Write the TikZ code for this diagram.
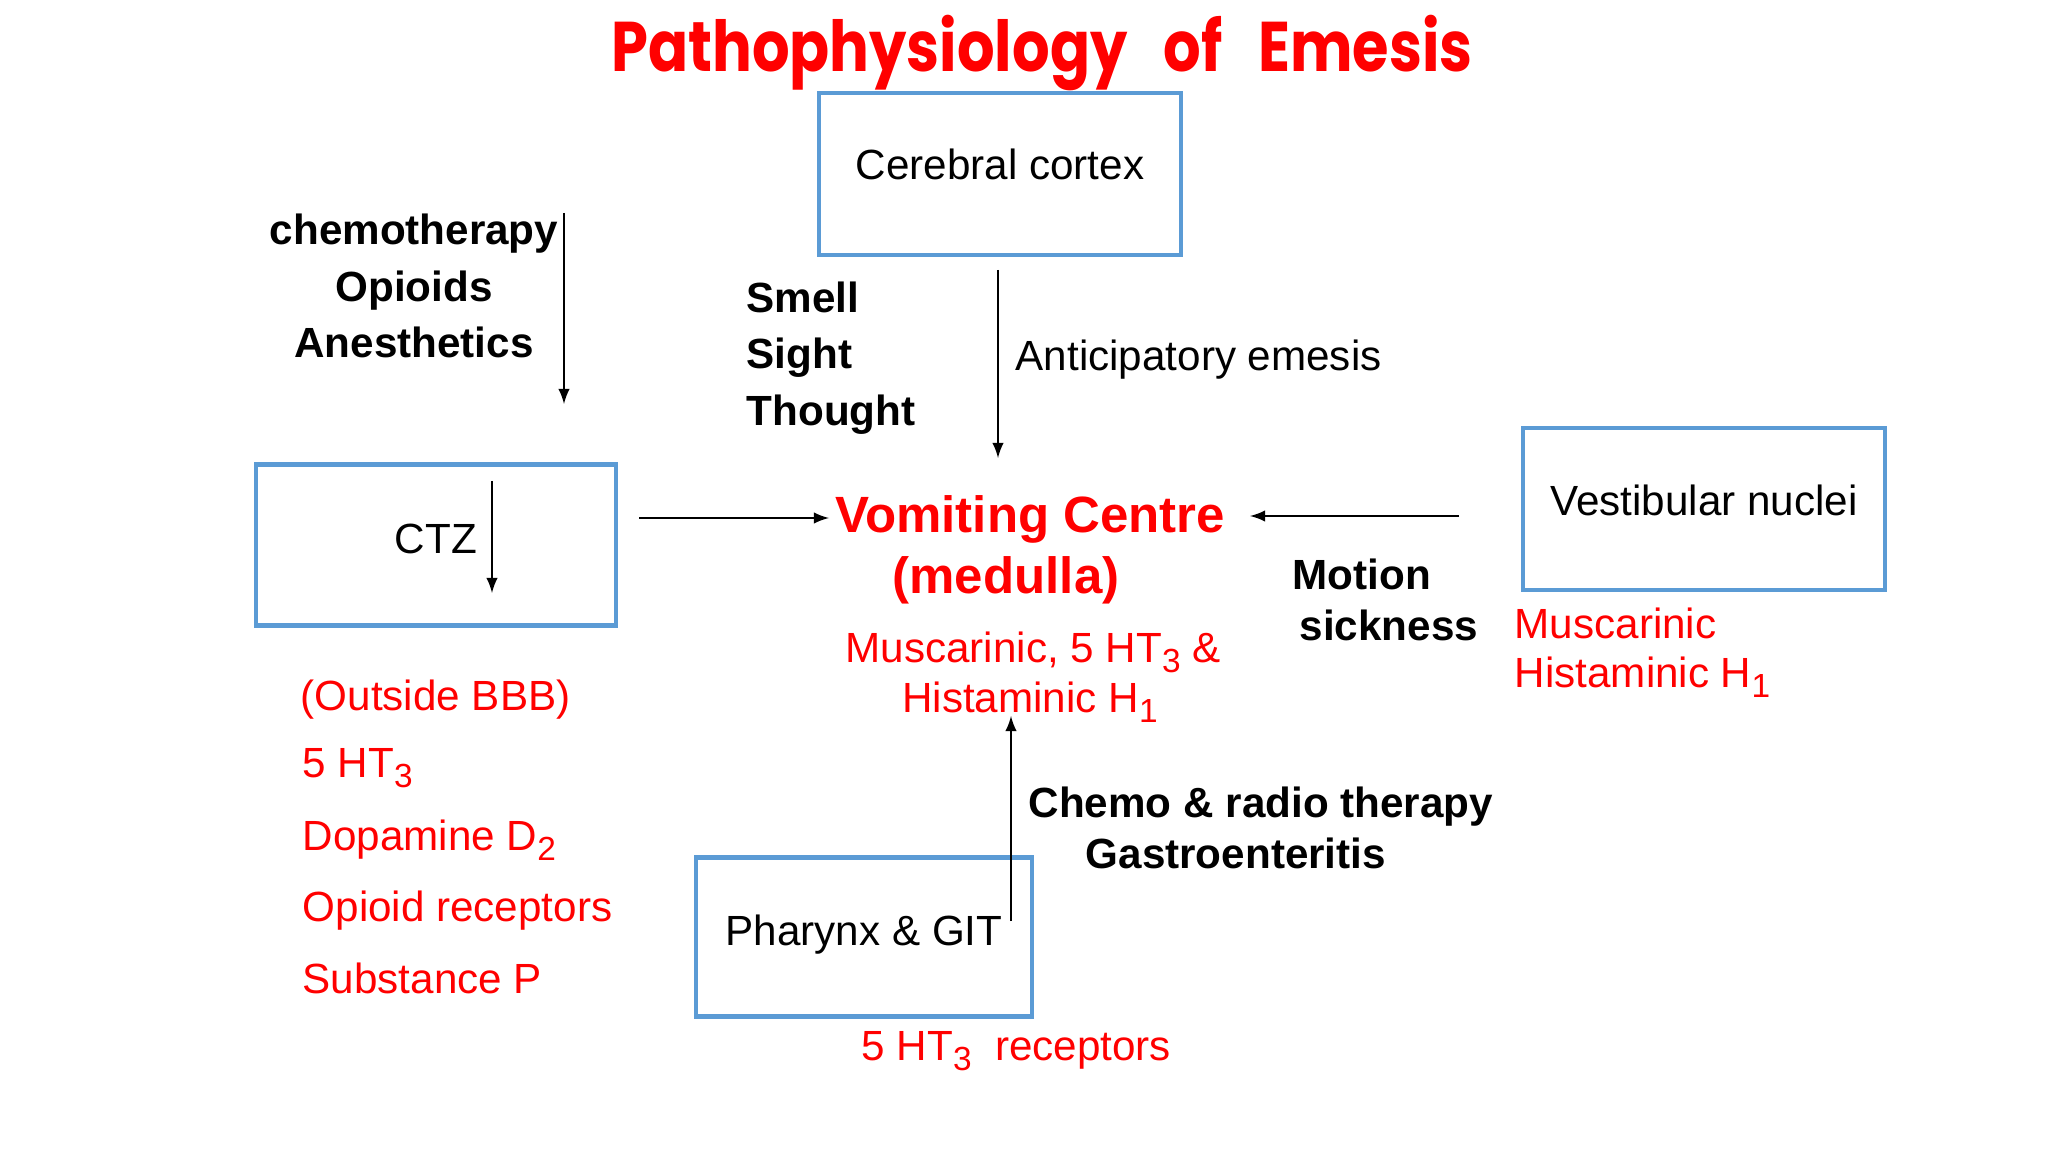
\documentclass[tikz,border=0pt]{standalone}
\usepackage{fontspec}
\setmainfont{Liberation Sans}
\newfontfamily\titlefont{Poppins}
\usepackage{xcolor}
\usetikzlibrary{arrows}
\definecolor{myred}{RGB}{255,0,0}
\definecolor{myblue}{RGB}{91,155,213}
\newcommand\lowsub[1]{\raisebox{-2.8pt}{\fontsize{9.5}{10}\selectfont #1}}

\begin{document}
\begin{tikzpicture}[x=0.01cm,y=-0.01cm,
  box/.style={draw=myblue, line width=1.3pt, minimum width=3.62cm, minimum height=1.62cm, font=\fontsize{12}{14}\selectfont},
  arr/.style={-latex, line width=0.5pt},
  lbl/.style={font=\fontsize{12}{16}\selectfont\bfseries},
  rec/.style={text=myred, font=\fontsize{12}{14}\selectfont}]
\useasboundingbox (0,0) rectangle (2048,1152);

%title
\node (title) at (1042,53) {\titlefont\bfseries\fontsize{20}{24}\selectfont\color{myred}\scalebox{0.84}[1]{Pathophysiology\hspace{0.28cm} of\hspace{0.28cm} Emesis}};

%boxes
\node[box, text depth=0.2cm] (cortex) at (1000,174) {Cerebral cortex};
\node[box, text depth=0.13cm, minimum width=3.60cm, minimum height=1.61cm] (ctz) at (436,545) {CTZ};
\node[box, text depth=0.18cm] (vest) at (1704,509) {Vestibular nuclei};
\node[box, text depth=0.14cm, minimum width=3.36cm, minimum height=1.59cm] (git) at (864,937) {Pharynx \& GIT};

%vomiting centre
\node[text=myred, font=\fontsize{14.5}{16}\selectfont\bfseries] (vc) at (1030,519) {Vomiting Centre};
\node[text=myred, font=\fontsize{14.5}{16}\selectfont\bfseries] (med) at (1006,580) {(medulla)};
\node[rec] (vcrec1) at (1033,652) {Muscarinic, 5 HT\lowsub{3} \&};
\node[rec] (vcrec2) at (1030,702) {Histaminic H\lowsub{1}};

%labels
\node[lbl, align=center] (drugs) at (414,286) {chemotherapy\\Opioids\\Anesthetics};
\node[lbl, align=left, anchor=west, inner sep=0pt] (senses) at (746,358) {Smell\\Sight\\Thought};
\node[font=\fontsize{12}{14}\selectfont, anchor=west, inner sep=0pt] (antic) at (1015,360) {Anticipatory emesis};
\node[lbl, font=\fontsize{12}{14.5}\selectfont\bfseries, align=left, anchor=west, inner sep=0pt] (motion) at (1292,600) {Motion\\\,sickness};
\node[lbl, font=\fontsize{12}{14.5}\selectfont\bfseries, align=left, anchor=west, inner sep=0pt] (chemo) at (1028,828) {Chemo \& radio therapy\\\hspace*{0.57cm}Gastroenteritis};

%receptors
\node[rec, anchor=west, inner sep=0pt] (bbb) at (300,700) {(Outside BBB)};
\node[rec, anchor=west, inner sep=0pt] (ht) at (302,768) {5 HT\lowsub{3}};
\node[rec, anchor=west, inner sep=0pt] (dop) at (302,840) {Dopamine D\lowsub{2}};
\node[rec, anchor=west, inner sep=0pt] (opi) at (302,911) {Opioid receptors};
\node[rec, anchor=west, inner sep=0pt] (subp) at (302,978) {Substance P};
\node[rec, anchor=west, inner sep=0pt] (vrec1) at (1514,623) {Muscarinic};
\node[rec, anchor=west, inner sep=0pt] (vrec2) at (1514,677) {Histaminic H\lowsub{1}};
\node[rec, anchor=west, inner sep=0pt] (gitrec) at (861,1051) {5 HT\lowsub{3}\ \ receptors};

%arrow ends
\coordinate (P1) at (998,270);
\coordinate (P2) at (998,458);
\coordinate (P3) at (564,213);
\coordinate (P4) at (564,404);
\coordinate (P5) at (492,481);
\coordinate (P6) at (492,593);
\coordinate (P7) at (639,518);
\coordinate (P8) at (829,518);
\coordinate (P9) at (1459,516);
\coordinate (P10) at (1250,516);
\coordinate (P11) at (1011,921);
\coordinate (P12) at (1011,716);

\draw[arr] (P1) -- (P2);
\draw[arr] (P3) -- (P4);
\draw[arr] (P5) -- (P6);
\draw[arr] (P7) -- (P8);
\draw[arr] (P9) -- (P10);
\draw[arr] (P11) -- (P12);
\end{tikzpicture}
\end{document}
